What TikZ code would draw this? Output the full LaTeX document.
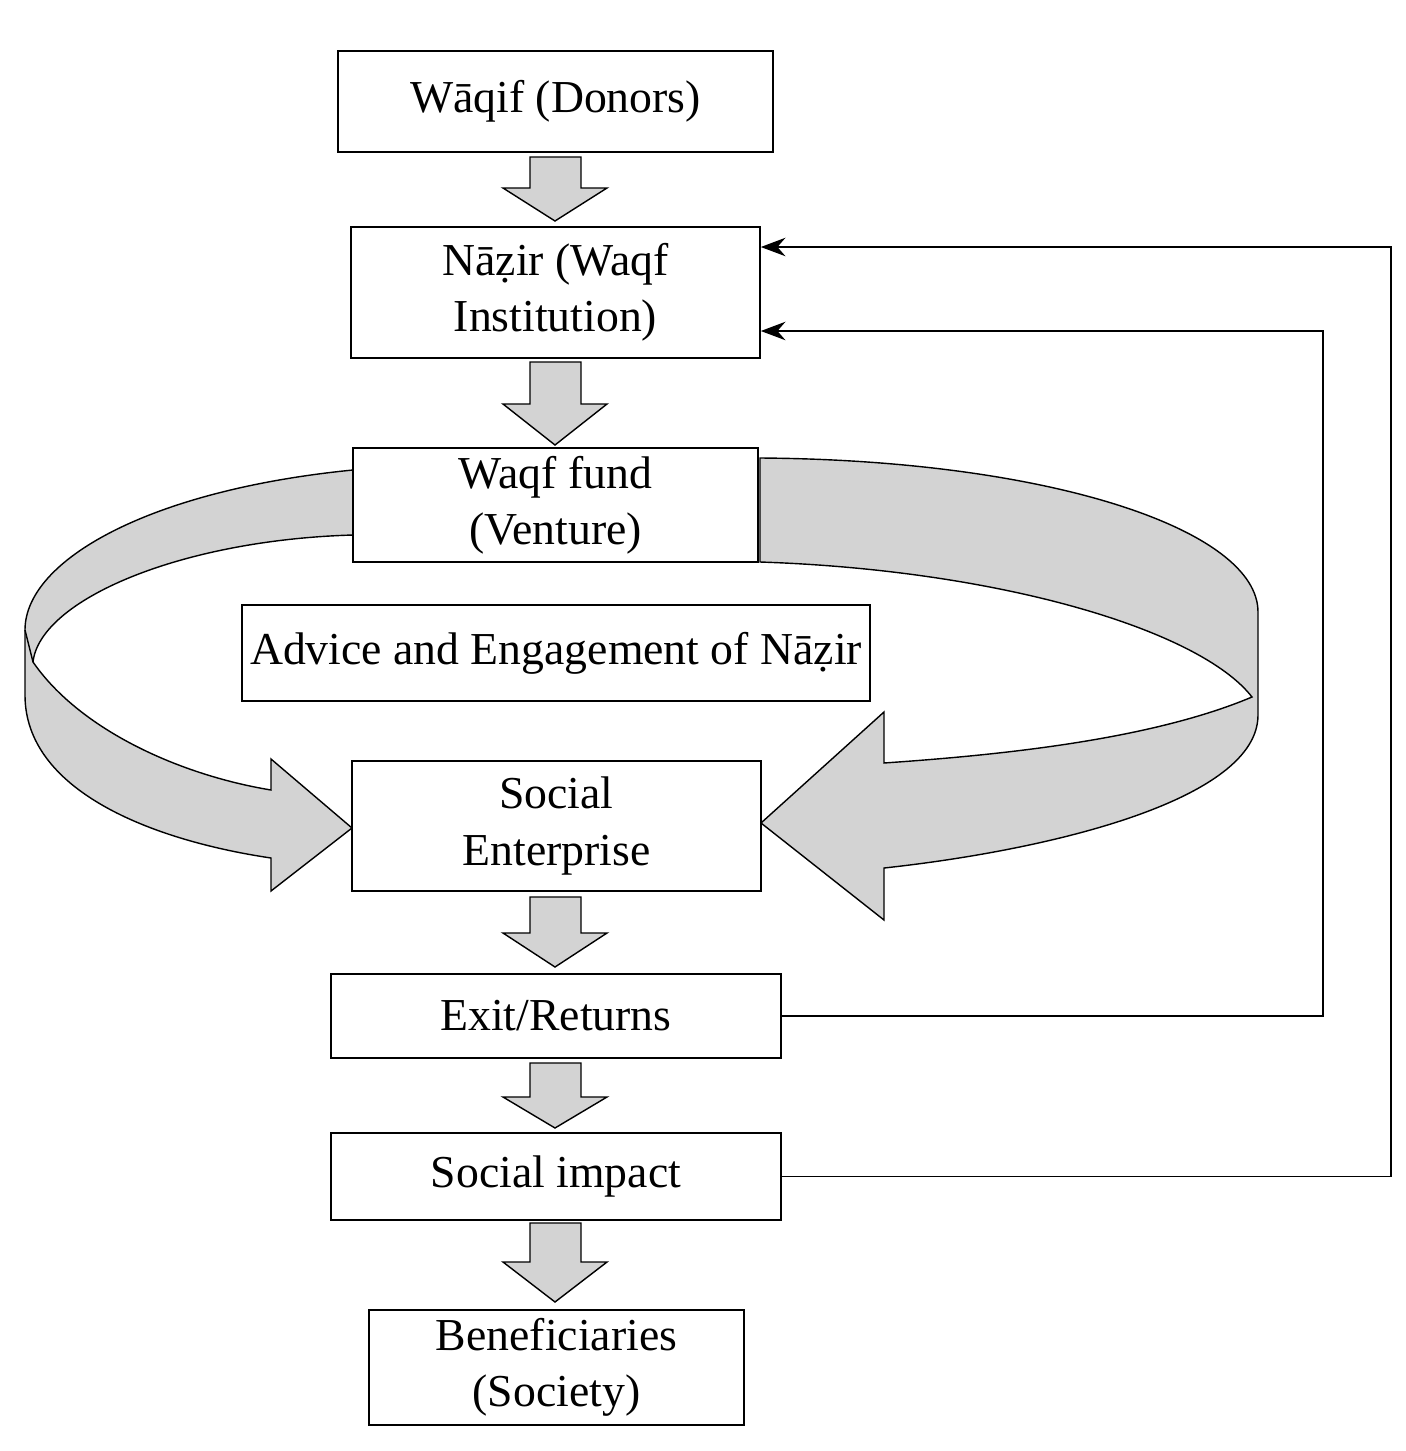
\documentclass[tikz,border=0pt]{standalone}
\usepackage{fontspec}
\setmainfont{Liberation Serif}
\usetikzlibrary{arrows.meta}
\definecolor{bandgray}{RGB}{211,211,211}
\newcommand{\blockarrow}[4]{% x, shaft top, head start, tip
  \filldraw[fill=bandgray, draw=black] (#1-25,#2) -- (#1+26,#2) -- (#1+26,#3) -- (#1+52,#3)
    -- (#1,#4) -- (#1-52,#3) -- (#1-25,#3) -- cycle;}
\begin{document}
\begin{tikzpicture}[x=0.01cm, y=-0.01cm,
  box/.style={draw, fill=white, align=center, inner sep=0pt,
    font=\fontsize{13}{16}\selectfont},
  feed/.style={-{Stealth[length=7pt]}}]
\useasboundingbox (0,0) rectangle (1405,1451);

\node[box, minimum width=4.35cm, minimum height=1.01cm] (waqif) at (555.5,101.5) {Wāqif (Donors)};
\node[box, minimum width=4.09cm, minimum height=1.31cm] (nazir) at (555.5,292.5) {Nāẓir (Waqf\\Institution)};

% twisted bands
\filldraw[fill=bandgray, draw=black] (353,470) .. controls (150,490) and (25,560) .. (25,630)
  -- (25,695) .. controls (25,790) and (150,840) .. (271,858) -- (271,891) -- (352,828)
  -- (271,759) -- (271,790) .. controls (180,775) and (80,730) .. (33,662)
  .. controls (40,600) and (180,540) .. (353,535) -- cycle;
\draw (25,630) -- (33,662);
\filldraw[fill=bandgray, draw=black] (760,458) .. controls (1050,460) and (1258,530) .. (1258,612)
  -- (1258,715) .. controls (1258,800) and (1050,850) .. (884,868) -- (884,920) -- (761,823)
  -- (884,712) -- (884,763) .. controls (1000,755) and (1150,740) .. (1252,697)
  .. controls (1200,630) and (1000,570) .. (760,562) -- cycle;

\node[box, minimum width=4.05cm, minimum height=1.14cm] (fund) at (555.5,505) {Waqf fund\\(Venture)};
\node[box, minimum width=6.28cm, minimum height=0.96cm] (advice) at (556,653) {Advice and Engagement of Nāẓir};
\node[box, minimum width=4.09cm, minimum height=1.30cm] (social) at (556.5,826) {Social\\Enterprise};
\node[box, minimum width=4.50cm, minimum height=0.84cm] (exit) at (556,1016) {Exit/Returns};
\node[box, minimum width=4.50cm, minimum height=0.87cm] (impact) at (556,1176.5) {Social impact};
\node[box, minimum width=3.75cm, minimum height=1.15cm] (benef) at (556.5,1367.5) {Beneficiaries\\(Society)};

% flow arrows
\blockarrow{555}{157}{188}{221}
\blockarrow{555}{362}{404}{445}
\blockarrow{555}{897}{933}{967}
\blockarrow{555}{1063}{1097}{1128}
\blockarrow{555}{1223}{1262}{1302}

% feedback
\coordinate (ea) at (1323,1016);
\coordinate (eb) at (1323,331);
\coordinate (ia) at (1391,1176.5);
\coordinate (ib) at (1391,247);
\draw[feed] (exit.east) -- (ea) -- (eb) -- (nazir.east |- eb);
\draw[feed] (impact.east) -- (ia) -- (ib) -- (nazir.east |- ib);
\end{tikzpicture}
\end{document}
